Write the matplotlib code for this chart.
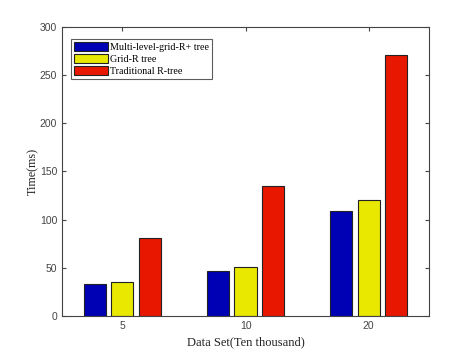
import numpy as np
import matplotlib
matplotlib.use("Agg")
from matplotlib import pyplot as plt

data_sets = ["5", "10", "20"]
multi_level = [33, 47, 109]
grid_r = [35, 51, 120]
traditional = [81, 135, 271]
series_names = ["Multi-level-grid-R+ tree", "Grid-R tree", "Traditional R-tree"]
colors = ["#0000b4", "#e8e800", "#e81800"]

fig = plt.figure(figsize=(4.74, 3.55), dpi=100)
ax = fig.add_axes([0.131, 0.110, 0.774, 0.814])

x = np.arange(1, len(data_sets) + 1)
width = 0.18
offsets = [-0.222, 0.0, 0.222]
for vals, off, col, name in zip([multi_level, grid_r, traditional], offsets, colors, series_names):
    ax.bar(x + off, vals, width, color=col, edgecolor="#222222", linewidth=0.8, label=name, zorder=2)

ax.set_xlim(0.51, 3.49)
ax.set_ylim(0, 300)
ax.set_yticks(range(0, 301, 50))
ax.set_xticks(x)
ax.set_xticklabels(data_sets)

for s in ax.spines.values():
    s.set_color("#444444")
    s.set_linewidth(0.8)
ax.tick_params(direction="in", top=True, right=True, length=3, width=0.8,
               colors="#444444", labelsize=7.5, labelcolor="#444444")
for lab in ax.get_xticklabels() + ax.get_yticklabels():
    lab.set_family("Liberation Sans")

serif = "Liberation Serif"
ax.set_xlabel("Data Set(Ten thousand)", family=serif, fontsize=9, labelpad=4, color="#222222")
ax.set_ylabel("Time(ms)", family=serif, fontsize=8.7, labelpad=0.5, color="#222222")

leg = ax.legend(loc="upper left", bbox_to_anchor=(0.024, 0.957), prop={"family": serif, "size": 7.2},
                frameon=True, fancybox=False, borderpad=0.3, labelspacing=0.2,
                handlelength=3.4, handleheight=0.95, handletextpad=0.2, borderaxespad=0.0)
leg.get_frame().set_edgecolor("#333333")
leg.get_frame().set_linewidth(0.8)

fig.savefig("out.png", dpi=100)
